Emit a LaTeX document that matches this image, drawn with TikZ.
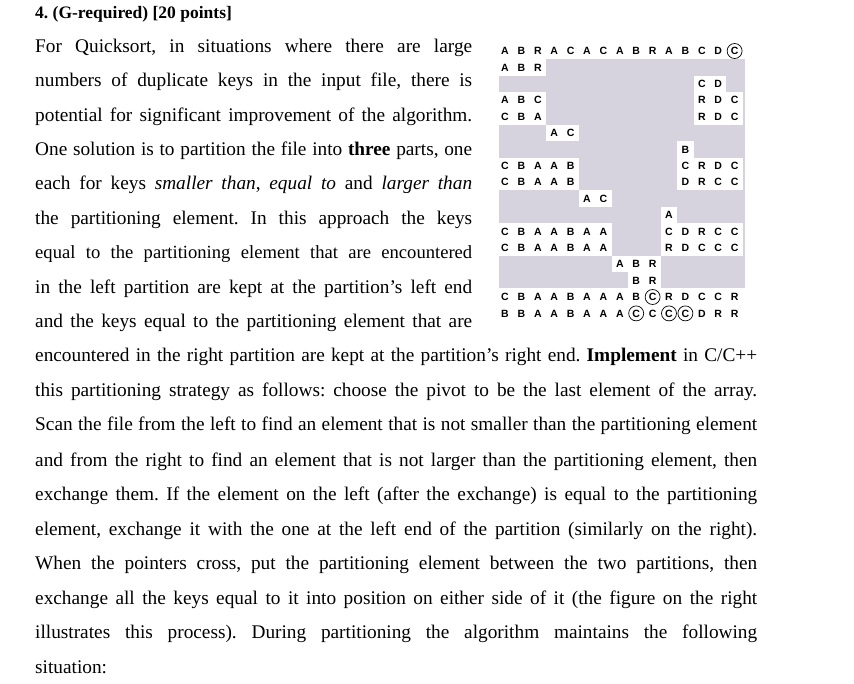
\documentclass[tikz,border=0pt]{standalone}
\usepackage{fontspec}
\setmainfont{Liberation Serif}
\newfontfamily\figfont{Liberation Sans}
\definecolor{figgray}{RGB}{214,211,222}
\frenchspacing
\begin{document}
\begin{tikzpicture}[x=1pt,y=-1pt,
  txt/.style={anchor=base west,inner sep=0pt,font=\fontsize{19.3}{22}\selectfont},
  cellbox/.style={fill=white,minimum width=16.4pt,minimum height=16.4pt,inner sep=0pt,font=\figfont\bfseries\fontsize{10.5}{11}\selectfont}]
\useasboundingbox (0,0) rectangle (854,684);
\fill[white] (0,0) rectangle (854,684);
\node[anchor=base west,inner sep=0pt,font=\bfseries\fontsize{17.5}{20}\selectfont] (title) at (35,19) {4. (G-required) [20 points]};
% text lines
\newcommand{\tline}[4]{\node[txt] (#1) at (35,#2) {\makebox[#3pt][s]{#4}};}
\tline{l1}{53}{437}{For Quicksort, in situations where there are large}
\tline{l2}{87}{437}{numbers of duplicate keys in the input file, there is}
\tline{l3}{122}{437}{potential for significant improvement of the algorithm.}
\tline{l4}{156}{437}{One solution is to partition the file into \textbf{three} parts, one}
\tline{l5}{190}{437}{each for keys \textit{smaller than}, \textit{equal to} and \textit{larger than}}
\tline{l6}{225}{437}{the partitioning element. In this approach the keys}
\tline{l7}{259}{437}{\fontsize{18.6}{22}\selectfont equal to the partitioning element that are encountered}
\tline{l8}{294}{437}{in the left partition are kept at the partition’s left end}
\tline{l9}{328}{437}{and the keys equal to the partitioning element that are}
\tline{l10}{362}{722}{encountered in the right partition are kept at the partition’s right end. \textbf{Implement} in C/C++}
\tline{l11}{397}{722}{this partitioning strategy as follows: choose the pivot to be the last element of the array.}
\tline{l12}{431}{722}{Scan the file from the left to find an element that is not smaller than the partitioning element}
\tline{l13}{466}{722}{and from the right to find an element that is not larger than the partitioning element, then}
\tline{l14}{500}{722}{exchange them. If the element on the left (after the exchange) is equal to the partitioning}
\tline{l15}{535}{722}{element, exchange it with the one at the left end of the partition (similarly on the right).}
\tline{l16}{569}{722}{When the pointers cross, put the partitioning element between the two partitions, then}
\tline{l17}{604}{722}{exchange all the keys equal to it into position on either side of it (the figure on the right}
\tline{l18}{638}{722}{illustrates this process). During partitioning the algorithm maintains the following}
\node[txt] (l19) at (35,673) {situation:};
% figure
\fill[figgray] (499,59.5) rectangle (745,288.5);
\foreach \r/\s/\w in {
 0/0/{A,B,R,A,C,A,C,A,B,R,A,B,C,D,C},
 1/0/{A,B,R}, 2/12/{C,D},
 3/0/{A,B,C}, 3/12/{R,D,C},
 4/0/{C,B,A}, 4/12/{R,D,C},
 5/3/{A,C}, 6/11/{B},
 7/0/{C,B,A,A,B}, 7/11/{C,R,D,C},
 8/0/{C,B,A,A,B}, 8/11/{D,R,C,C},
 9/5/{A,C}, 10/10/{A},
 11/0/{C,B,A,A,B,A,A}, 11/10/{C,D,R,C,C},
 12/0/{C,B,A,A,B,A,A}, 12/10/{R,D,C,C,C},
 13/7/{A,B,R}, 14/8/{B,R},
 15/0/{C,B,A,A,B,A,A,A,B,C,R,D,C,C,R},
 16/0/{B,B,A,A,B,A,A,A,C,C,C,C,D,R,R}}{
  \foreach \l [count=\k] in \w {
    \pgfmathtruncatemacro\c{\s+\k-1}
    \node[cellbox] (L-\c-\r) at ({505+16.4*\c},{51+16.4*\r}) {\l};
  }
}
\foreach \c/\r in {14/0,9/15,8/16,10/16,11/16}
  \draw[line width=0.7pt] (L-\c-\r) circle (7.5pt);
\end{tikzpicture}
\end{document}
